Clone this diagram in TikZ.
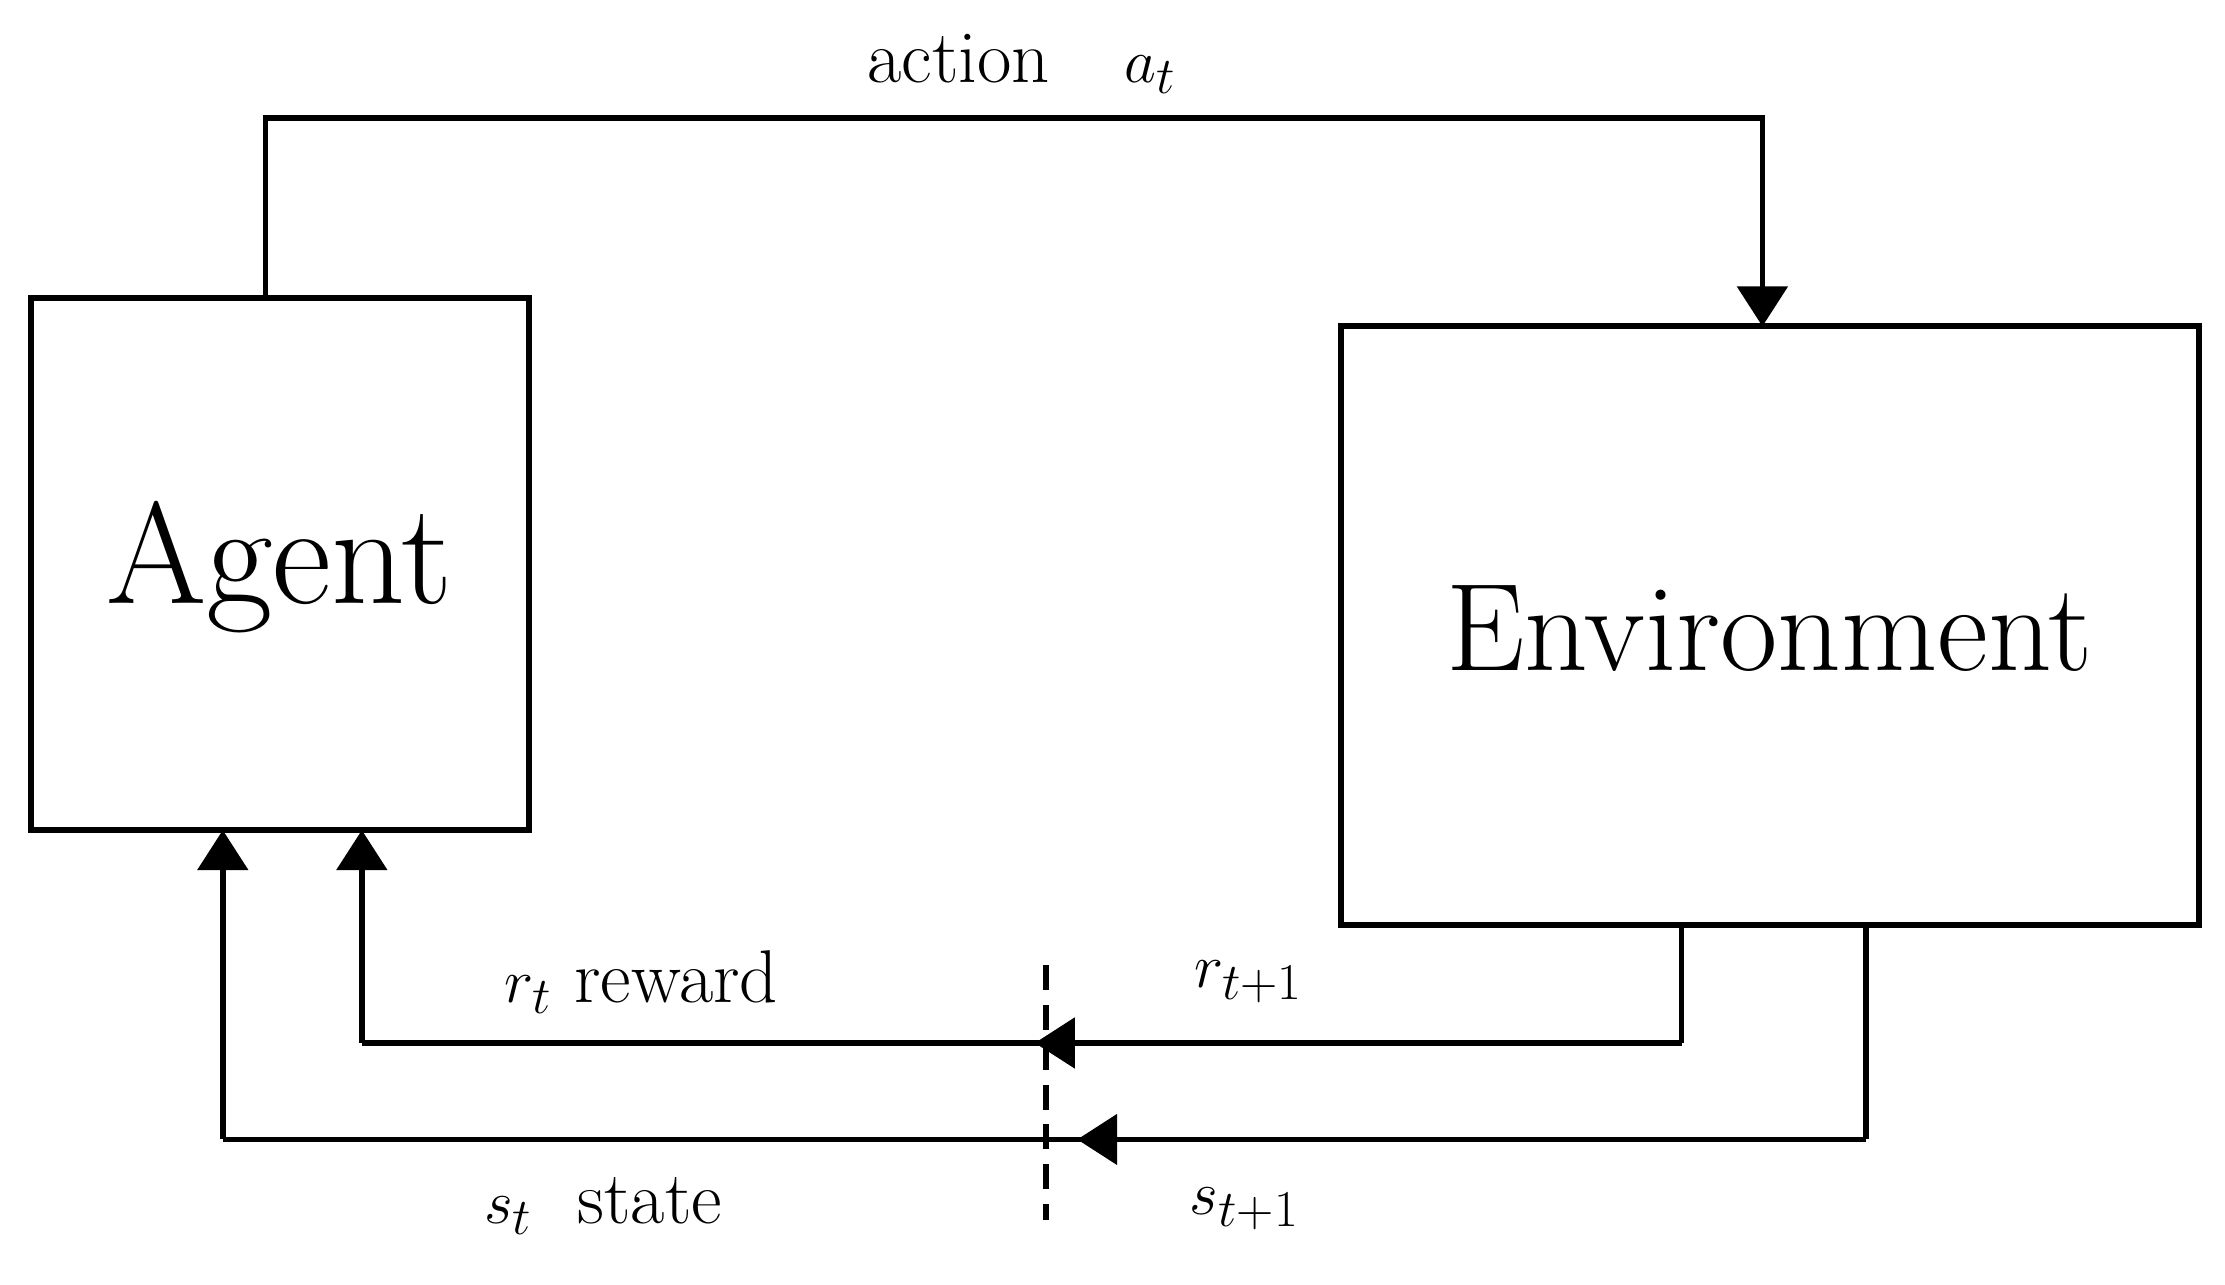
\documentclass[tikz,border=0pt]{standalone}
\usetikzlibrary{arrows.meta,decorations.markings}
\begin{document}
\begin{tikzpicture}[x=0.02cm,y=-0.02cm,
  box/.style={draw,line width=2.4pt,inner sep=0pt},
  conn/.style={line width=2.2pt},
  tip/.style={-{Triangle[length=16pt,width=20pt]}},
  midtip/.style={postaction={decorate},decoration={markings,mark=at position #1 with {\arrow{Triangle[length=16pt,width=20pt]}}}},
  lab/.style={font=\fontsize{30}{34}\selectfont}]
\useasboundingbox (0,0) rectangle (1568,905);
\node[box,minimum width=351*0.02cm,minimum height=375*0.02cm] (agent) at (197.5,397.5) {};
\node[font=\fontsize{58}{60}\selectfont] (agentt) at (197,400) {Agent};
\node[box,minimum width=605*0.02cm,minimum height=422*0.02cm] (env) at (1247.5,441) {};
\node[font=\fontsize{50}{52}\selectfont] (envt) at (1247,443) {Environment};
\coordinate (a1) at (187,210);
\coordinate (a2) at (187,83);
\coordinate (a3) at (1242,83);
\coordinate (a4) at (1242,230);
\draw[conn,tip] (a1) -- (a2) -- (a3) -- (a4);
\node[lab] (act) at (720,45) {action\quad $a_t$};
\coordinate (r1) at (1185,652);
\coordinate (r2) at (1185,735);
\coordinate (r3) at (255,735);
\coordinate (r4) at (255,585);
\draw[conn] (r1) -- (r2);
\draw[conn,midtip=0.49] (r2) -- (r3);
\draw[conn,tip] (r3) -- (r4);
\coordinate (s1) at (1315,652);
\coordinate (s2) at (1315,803);
\coordinate (s3) at (157,803);
\coordinate (s4) at (157,585);
\draw[conn] (s1) -- (s2);
\draw[conn,midtip=0.48] (s2) -- (s3);
\draw[conn,tip] (s3) -- (s4);
\coordinate (d1) at (737,680);
\coordinate (d2) at (737,860);
\draw[line width=2.2pt,dash pattern=on 10pt off 6pt] (d1) -- (d2);
\node[lab] (rl) at (452,692) {$r_t$ reward};
\node[lab] (rn) at (880,692) {$r_{t+1}$};
\node[lab] (sl) at (425,850) {$s_t$\ \ state};
\node[lab] (sn) at (877,852) {$s_{t+1}$};
\end{tikzpicture}
\end{document}
